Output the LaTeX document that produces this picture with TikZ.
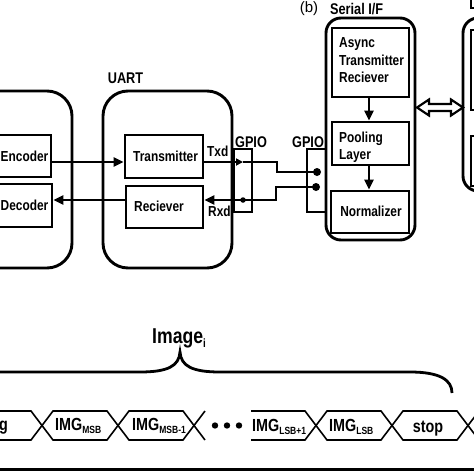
\documentclass[tikz,border=0pt]{standalone}
\usepackage{fontspec}
\setmainfont{Liberation Sans}[FakeStretch=0.82]
\newfontfamily\regfont{Liberation Sans}
\usetikzlibrary{arrows.meta,calc}
\newcommand\szbox{\fontsize{14.5}{17.3}\selectfont\bfseries}
\newcommand\szlab{\fontsize{15.5}{18}\selectfont\bfseries}
\newcommand\sztim{\fontsize{17.5}{20}\selectfont\bfseries}
\newcommand\subt[1]{\raisebox{-3pt}{\fontsize{10.4}{12}\selectfont\bfseries #1}}
\tikzset{
  boxst/.style={draw, line width=2.9pt, inner sep=0pt},
  grp/.style={draw, line width=2.9pt, rounded corners=25pt, inner sep=0pt},
  gpiost/.style={draw, line width=2.1pt, inner sep=0pt},
  wire/.style={line width=2.8pt},
  bigtip/.style={-{Triangle[length=10pt,width=9pt]}},
  smalltip/.style={-{Triangle[length=7pt,width=7pt]}},
  txt/.style={inner sep=0pt, font=\szbox},
  lab/.style={inner sep=0pt, font=\szlab},
  tim/.style={inner sep=0pt, font=\sztim},
  sig/.style={line width=1.6pt},
  dotst/.style={circle, fill=black, inner sep=0pt, minimum size=8pt},
}
\begin{document}
\begin{tikzpicture}[x=1pt,y=-1pt]
\useasboundingbox (0,0) rectangle (474,474);
\fill[white] (0,0) rectangle (474,474);
\clip (0,0) rectangle (474,474);

% left group (encoder / decoder)
\node[grp, minimum width=132pt, minimum height=177pt] (left) at (6,179.5) {};
\node[boxst, minimum width=91pt, minimum height=42pt] (enc) at (5.5,156) {};
\node[boxst, minimum width=92pt, minimum height=43pt] (dec) at (6,205.5) {};
\node[txt, anchor=base west] (enct) at (0.5,161) {Encoder};
\node[txt, anchor=base west] (dect) at (0.5,210) {Decoder};

% UART
\node[grp, minimum width=129pt, minimum height=177pt] (uart) at (167.5,179.5) {};
\node[lab, anchor=base] (uartt) at (125.5,83) {UART};
\node[boxst, minimum width=78pt, minimum height=43pt] (tx) at (164,156.5) {};
\node[boxst, minimum width=77pt, minimum height=42pt] (rx) at (164.5,207) {};
\node[txt, anchor=base west] (txt1) at (133,161) {Transmitter};
\node[txt, anchor=base west] (rxt) at (134,211) {Reciever};
\node[txt, anchor=base west] (txdl) at (207,156) {Txd};
\node[txt, anchor=base west] (rxdl) at (208,216.5) {Rxd};

% GPIO boxes
\node[gpiost, minimum width=18pt, minimum height=63pt] (g1) at (243,180.5) {};
\node[gpiost, minimum width=19pt, minimum height=63pt] (g2) at (316.5,180.5) {};
\node[lab, anchor=base] (g1t) at (251,147) {GPIO};
\node[lab, anchor=base] (g2t) at (308,147) {GPIO};

% Serial I/F
\node[grp, rounded corners=15pt, minimum width=89pt, minimum height=222pt] (ser) at (370.5,129) {};
\node[inner sep=0pt, anchor=base, font=\regfont\fontsize{15}{18}\selectfont] (bl) at (309,12.5) {(b)};
\node[lab, anchor=base west] (sert) at (330,14) {Serial I/F};
\node[boxst, minimum width=77pt, minimum height=69pt] (async) at (370.5,62.5) {};
\node[boxst, minimum width=77pt, minimum height=43pt] (pool) at (370.5,143.5) {};
\node[boxst, minimum width=78pt, minimum height=42pt] (norm) at (370,212) {};
\node[txt, anchor=base west] (as1) at (339,47.5) {Async};
\node[txt, anchor=base west] (as2) at (339,65) {Transmitter};
\node[txt, anchor=base west] (as3) at (339,82) {Reciever};
\node[txt, anchor=base west] (po1) at (339,142) {Pooling};
\node[txt, anchor=base west] (po2) at (339,159.5) {Layer};
\node[txt, anchor=base] (nort) at (371,216) {Normalizer};
\draw[wire, bigtip] (async.south -| 369,0) -- (pool.north -| 369,0);
\draw[wire, bigtip] (pool.south -| 369,0) -- (norm.north -| 369,0);

% right partial block
\node[grp, rounded corners=15pt, minimum width=70pt, minimum height=173pt] (rbox) at (498,104.5) {};
\node[boxst, minimum width=50pt, minimum height=80pt] (r1) at (496,70) {};
\node[boxst, minimum width=50pt, minimum height=50pt] (r2) at (496,161) {};
\draw[line width=1.5pt] (471,-2) -- (471,8) -- (480,8);

% double arrow
\coordinate (dal) at (417,107.5);
\coordinate (dar) at (463,107.5);
\draw[line width=2.1pt, fill=white, line join=miter]
  (dal) -- ++(12,-8) -- ++(0,4.5) -- ($(dar)+(-12,-3.5)$) -- ++(0,-4.5) -- (dar)
  -- ++(-12,8) -- ++(0,-4.5) -- ($(dal)+(12,3.5)$) -- ++(0,4.5) -- cycle;

% wires
\coordinate (ya) at (0,162);
\coordinate (yb) at (0,200);
\draw[wire, bigtip] (enc.east |- ya) -- (tx.west |- ya);
\draw[wire, bigtip] (rx.west |- yb) -- (dec.east |- yb);
\node[dotst] (d1) at (317,172) {};
\node[dotst] (d2) at (316,187) {};
\coordinate (gin) at (243,162);
\draw[wire, smalltip] (tx.east |- ya) -- (gin);
\draw[wire] (gin) -- (277,162) -- (277,172) -- (d1.center);
\draw[wire, bigtip] (d2.center) -- (276,187) -- (276,200) -- (rx.east |- yb);
\node[circle, fill=black, inner sep=0pt, minimum size=5.5pt] (jd) at (243,200) {};

% brace
\draw[line width=2.8pt] (-5,372) -- (140,372) .. controls (168,372) and (179,366) .. (180,352)
  .. controls (181,366) and (192,372) .. (220,372) -- (410,372)
  .. controls (440,372) and (452,380) .. (452,393);
\node[inner sep=0pt, anchor=base west, font=\fontsize{21.5}{24}\selectfont\bfseries] (imgl) at (152,343)
  {Image\raisebox{-4pt}{\fontsize{12}{12}\selectfont\bfseries i}};

% timing diagram
\def\T{411}\def\B{440}
\draw[sig] (-2,\T) -- (31,\T) -- (53,\B) -- (107,\B) -- (129,\T) -- (183,\T) -- (205,\B);
\draw[sig] (-2,\B) -- (31,\B) -- (53,\T) -- (107,\T) -- (129,\B) -- (183,\B) -- (205,\T);
\draw[sig] (251,\T) -- (305,\T) -- (327,\B) -- (381,\B) -- (403,\T) -- (457,\T) -- (479,\B);
\draw[sig] (251,\B) -- (305,\B) -- (327,\T) -- (381,\T) -- (403,\B) -- (457,\B) -- (479,\T);
\fill (215,425.5) circle (3.2);
\fill (227,425.5) circle (3.2);
\fill (239,425.5) circle (3.2);
\node[tim, anchor=base west] (tg) at (-1,430) {g};
\node[tim, anchor=base west] (t1) at (55,430) {IMG\subt{MSB}};
\node[tim, anchor=base west] (t2) at (132,430) {IMG\subt{MSB-1}};
\node[tim, anchor=base west] (t3) at (252,431) {IMG\subt{LSB+1}};
\node[tim, anchor=base west] (t4) at (329,431) {IMG\subt{LSB}};
\node[tim, anchor=base] (t5) at (428,432) {stop};
\draw[line width=3pt] (-2,469) -- (478,469);
\end{tikzpicture}
\end{document}
